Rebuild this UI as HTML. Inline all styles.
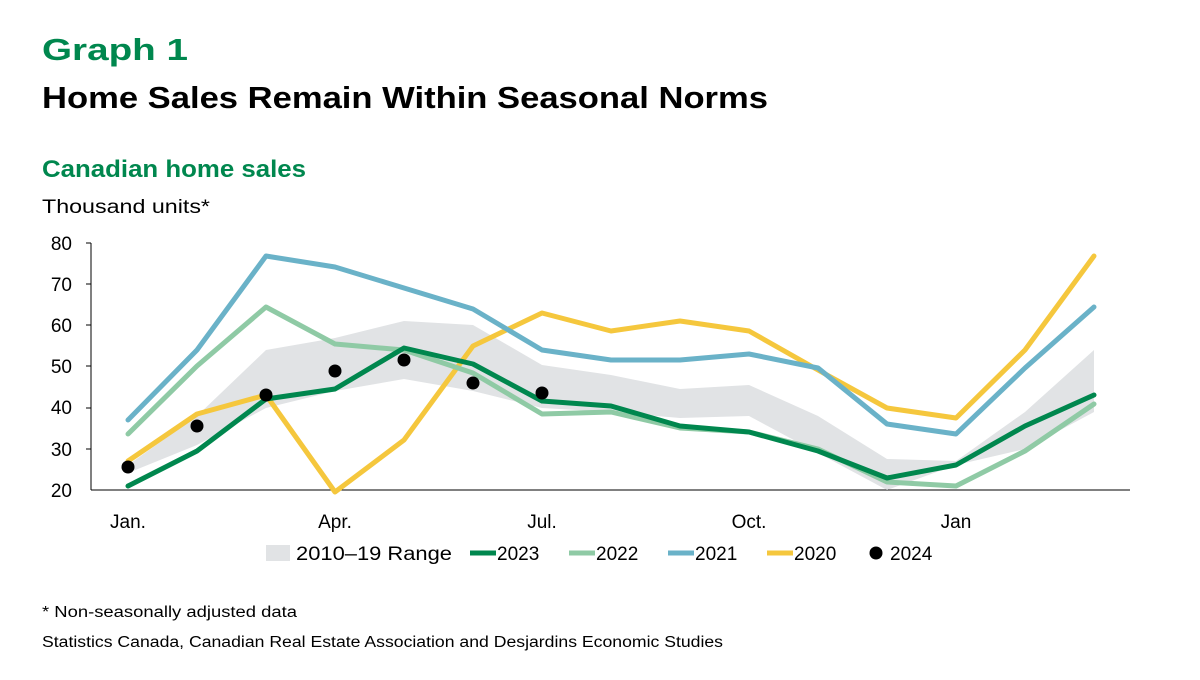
<!DOCTYPE html>
<html><head><meta charset="utf-8"><style>
body{margin:0;background:#fff;font-family:"Liberation Sans",sans-serif;}
</style></head><body>
<svg width="1200" height="675" xmlns="http://www.w3.org/2000/svg" font-family="Liberation Sans, sans-serif">
<rect width="1200" height="675" fill="#fff"/>
<text x="42" y="60" font-size="31" font-weight="bold" fill="#00874e" textLength="146" lengthAdjust="spacingAndGlyphs">Graph 1</text>
<text x="42" y="108" font-size="31" font-weight="bold" fill="#000" textLength="726" lengthAdjust="spacingAndGlyphs">Home Sales Remain Within Seasonal Norms</text>
<text x="42" y="177" font-size="24" font-weight="bold" fill="#00874e" textLength="264" lengthAdjust="spacingAndGlyphs">Canadian home sales</text>
<text x="42" y="213" font-size="19" fill="#000" textLength="168" lengthAdjust="spacingAndGlyphs">Thousand units*</text>
<g font-size="19" fill="#000" text-anchor="end">
<text x="72" y="250">80</text><text x="72" y="291">70</text><text x="72" y="332">60</text><text x="72" y="373">50</text><text x="72" y="414">40</text><text x="72" y="456">30</text><text x="72" y="497">20</text>
</g>
<line x1="91" y1="243" x2="91" y2="490" stroke="#000" stroke-width="1"/>
<g stroke="#000"><line x1="86" y1="243" x2="91" y2="243"/><line x1="86" y1="284" x2="91" y2="284"/><line x1="86" y1="325" x2="91" y2="325"/><line x1="86" y1="366" x2="91" y2="366"/><line x1="86" y1="408" x2="91" y2="408"/><line x1="86" y1="449" x2="91" y2="449"/></g>
<line x1="91" y1="490" x2="1130" y2="490" stroke="#000" stroke-width="1"/>
<g font-size="19" fill="#000" text-anchor="middle">
<text x="128" y="528">Jan.</text><text x="335" y="528">Apr.</text><text x="542" y="528">Jul.</text><text x="749" y="528">Oct.</text><text x="956" y="528">Jan</text>
</g>
<polygon fill="#e1e3e5" points="128,465 197,416 266,350 335,338 404,321 473,325 542,365 611,375 680,389 749,385 818,416 887,459 956,461 1025,412 1094,350 1094,412 1025,449 956,465 887,490 818,453 749,416 680,418 611,412 542,408 473,391 404,379 335,391 266,408 197,445 128,473"/>
<g fill="none" stroke-width="5" stroke-linejoin="round" stroke-linecap="round">
<polyline stroke="#f5c73d" points="128,461 197,414 266,395 335,492 404,440 473,346 542,313 611,331 680,321 749,331 818,370 887,408 956,418 1025,350 1094,256"/>
<polyline stroke="#6ab2c8" points="128,420 197,350 266,256 335,267 404,288 473,309 542,350 611,360 680,360 749,354 818,368 887,424 956,434 1025,368 1094,307"/>
<polyline stroke="#8fcaa5" points="128,434 197,366 266,307 335,344 404,350 473,373 542,414 611,412 680,428 749,432 818,449 887,482 956,486 1025,451 1094,404"/>
<polyline stroke="#00874e" points="128,486 197,451 266,399 335,389 404,348 473,364 542,401 611,406 680,426 749,432 818,451 887,478 956,465 1025,426 1094,395"/>
</g>
<g fill="#000">
<circle cx="128" cy="467" r="6.5"/><circle cx="197" cy="426" r="6.5"/><circle cx="266" cy="395" r="6.5"/><circle cx="335" cy="371" r="6.5"/><circle cx="404" cy="360" r="6.5"/><circle cx="473" cy="383" r="6.5"/><circle cx="542" cy="393" r="6.5"/>
</g>
<g font-size="19" fill="#000">
<rect x="266" y="545" width="24" height="16" fill="#e1e3e5"/><text x="296" y="560" textLength="156" lengthAdjust="spacingAndGlyphs">2010–19 Range</text>
<line x1="470" y1="553" x2="496" y2="553" stroke="#00874e" stroke-width="5"/><text x="497" y="560">2023</text>
<line x1="569" y1="553" x2="595" y2="553" stroke="#8fcaa5" stroke-width="5"/><text x="596" y="560">2022</text>
<line x1="668" y1="553" x2="694" y2="553" stroke="#6ab2c8" stroke-width="5"/><text x="695" y="560">2021</text>
<line x1="767" y1="553" x2="793" y2="553" stroke="#f5c73d" stroke-width="5"/><text x="794" y="560">2020</text>
<circle cx="876" cy="553" r="6.5"/><text x="890" y="560">2024</text>
</g>
<text x="42" y="617" font-size="15.5" fill="#000" textLength="255" lengthAdjust="spacingAndGlyphs">* Non-seasonally  adjusted data</text>
<text x="42" y="647" font-size="15.5" fill="#000" textLength="681" lengthAdjust="spacingAndGlyphs">Statistics Canada, Canadian Real Estate Association and Desjardins Economic Studies</text>
</svg>
</body></html>
